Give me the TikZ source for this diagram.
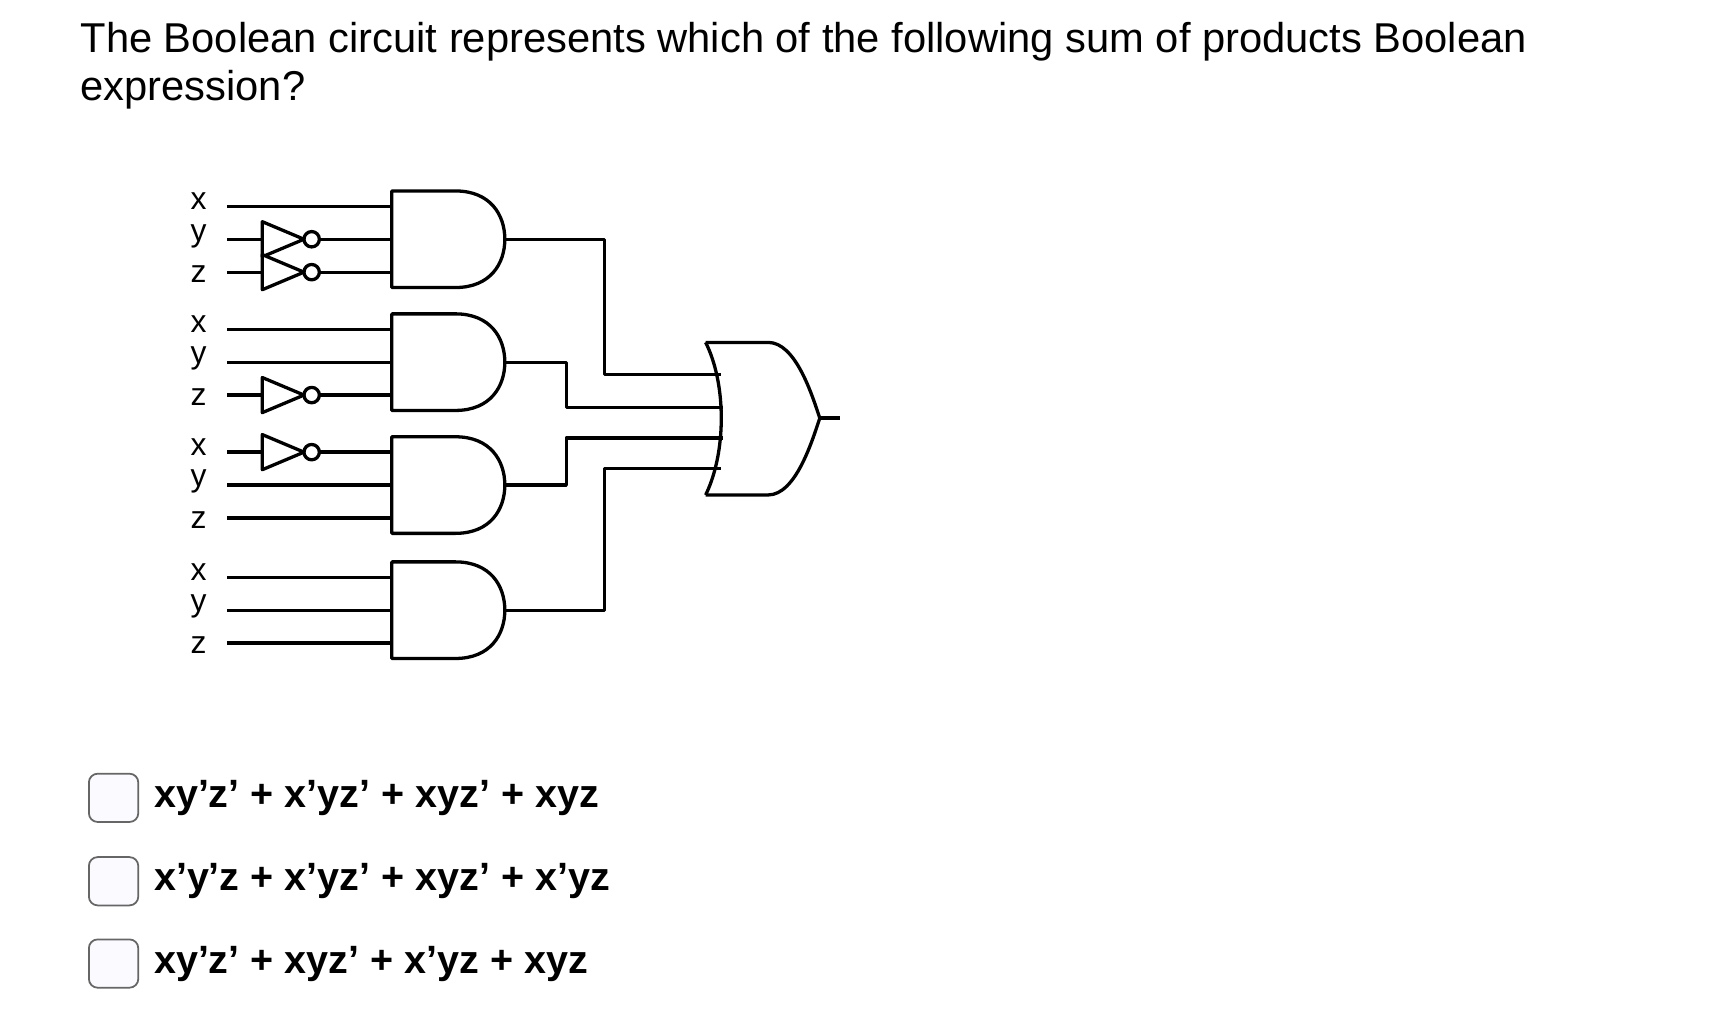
\documentclass[tikz,border=0pt]{standalone}
\usepackage{fontspec}
\setmainfont{Liberation Sans}
\newcommand\q{\char"27\relax}
\begin{document}
\begin{tikzpicture}[x=0.5pt,y=-0.5pt,
  wire/.style={line width=1.5pt,line join=round},
  lbl/.style={font=\fontsize{14.5}{14.5}\selectfont,inner sep=0pt},
  opt/.style={font=\bfseries\fontsize{18}{20}\selectfont,anchor=west,inner sep=0pt},
  cbox/.style={draw=gray!80!black,line width=0.8pt,rounded corners=4pt,fill=blue!2}]
\useasboundingbox (0,0) rectangle (1560,931);
\fill[white] (0,0) rectangle (1560,931);
\node[anchor=north west,align=left,inner sep=0pt,font=\fontsize{19}{22}\selectfont] (title) at (73,20)
  {The Boolean circuit represents which of the following sum of products Boolean\\expression?};
\newcommand\andg[1]{%
  \draw[wire] (357,#1-44) -- (415,#1-44) .. controls (447,#1-44) and (460,#1-22) .. (460,#1)
     .. controls (460,#1+22) and (447,#1+44) .. (415,#1+44) -- (357,#1+44) -- cycle;
  \node[lbl] at (181,#1-35) {x};
  \node[lbl] at (181,#1-3) {y};
  \node[lbl] at (181,#1+32) {z};}
\newcommand\notg[1]{%
  \draw[wire] (207,#1) -- (239,#1);
  \draw[wire,fill=white] (239,#1-16) -- (277,#1) -- (239,#1+16) -- cycle;
  \draw[wire,fill=white] (284,#1) circle (7);
  \draw[wire] (291,#1) -- (357,#1);}
\newcommand\plain[1]{\draw[wire] (207,#1) -- (357,#1);}
\foreach \c in {218,330,442,556} {\andg{\c}}
\plain{188}\notg{218}\notg{248}
\plain{300}\plain{330}\notg{360}
\notg{412}\plain{442}\plain{472}
\plain{526}\plain{556}\plain{586}
\draw[wire] (643,312) .. controls (662,350) and (662,412) .. (643,451);
\draw[wire] (643,312) -- (700,312) .. controls (725,312) and (740,360) .. (747,381)
   .. controls (740,402) and (725,451) .. (700,451) -- (643,451);
\coordinate (orout) at (747,381);
\draw[wire] (orout) -- (765,381);
\draw[wire] (460,218) -- (551,218) -- (551,341) -- (657,341);
\draw[wire] (460,330) -- (516,330) -- (516,371) -- (659,371);
\draw[wire] (460,442) -- (516,442) -- (516,399) -- (659,399);
\draw[wire] (460,556) -- (551,556) -- (551,427) -- (657,427);
\foreach \yy/\t/\n in {727/{xy\q z\q{} + x\q yz\q{} + xyz\q{} + xyz}/a, 803/{x\q y\q z + x\q yz\q{} + xyz\q{} + x\q yz}/b, 878/{xy\q z\q{} + xyz\q{} + x\q yz + xyz}/c} {
  \draw[cbox] (81,\yy-22) rectangle (126,\yy+22);
  \node[opt] (opt\n) at (140,\yy) {\t};
}
\end{tikzpicture}
\end{document}
